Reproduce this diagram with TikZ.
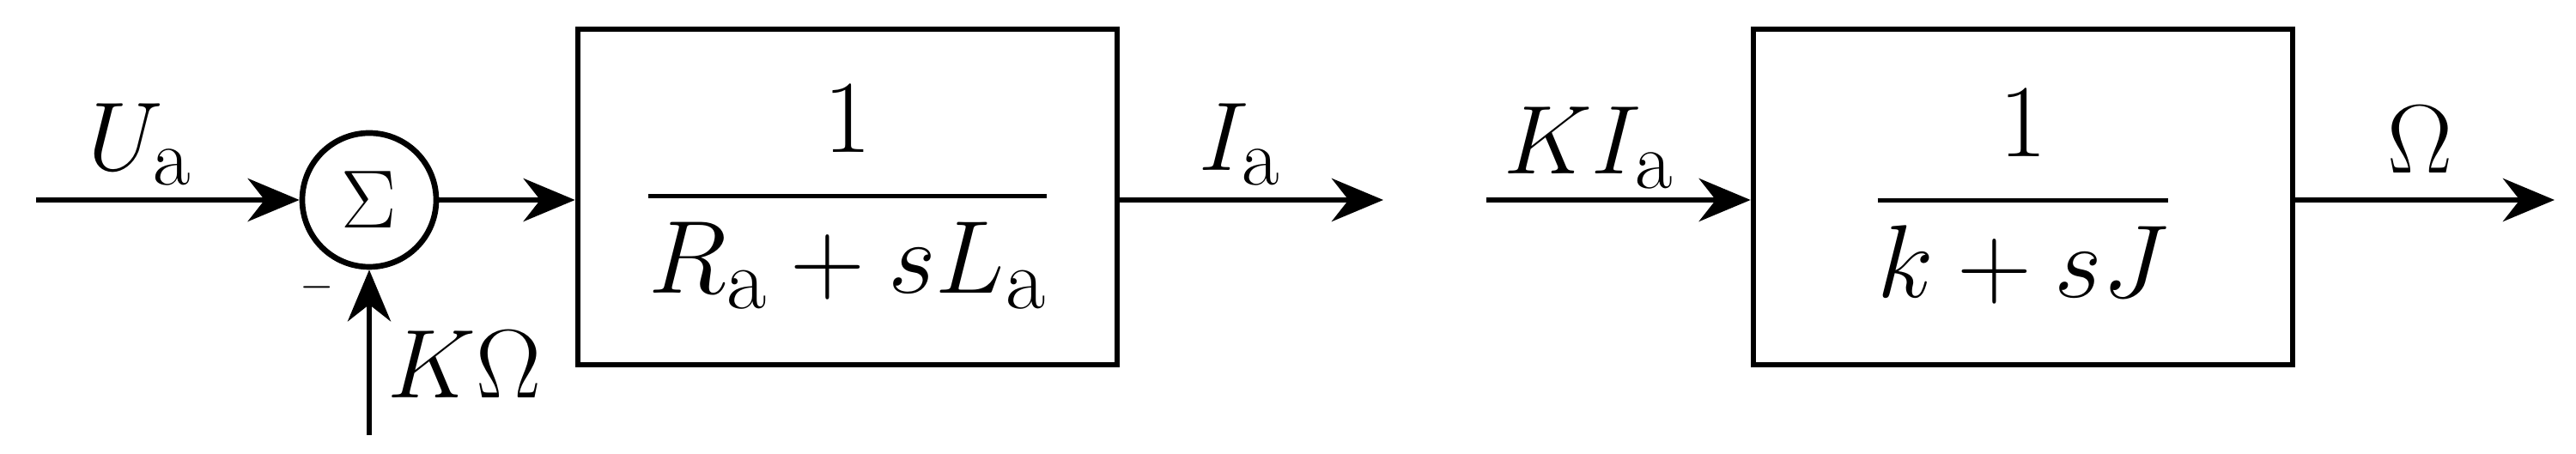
\documentclass[tikz,border=0pt]{standalone}
\usepackage{amsmath}
\usepackage{graphicx}
\usetikzlibrary{arrows.meta}
\begin{document}
\begin{tikzpicture}[x=1cm,y=1cm,
  ln/.style={line width=1.9pt},
  ar/.style={ln,-{Stealth[length=0.6cm,width=0.5cm]}},
  blk/.style={draw,line width=1.9pt,minimum width=6.28cm,minimum height=3.91cm,inner sep=0pt},
  lbl/.style={font=\Huge}]
\useasboundingbox (0,0) rectangle (30,5.29);
\coordinate (in1) at (0.42,2.96);
\node[draw,ln,circle,minimum size=1.56cm,inner sep=0pt,font=\Huge] (sum) at (4.30,2.96) {\scalebox{1.1}{$\Sigma$}};
\node[blk,font=\Huge] (b1) at (9.87,2.995) {\scalebox{1.38}{$\dfrac{1}{R_\mathrm{a}+sL_\mathrm{a}}$}};
\coordinate (o1) at (16.11,2.96);
\coordinate (fb) at (4.30,0.22);
\coordinate (in2) at (17.31,2.96);
\node[blk,font=\Huge] (b2) at (23.56,2.995) {\scalebox{1.38}{$\dfrac{1}{k+sJ}$}};
\coordinate (o2) at (29.75,2.96);
\draw[ar] (in1) -- (sum.west);
\draw[ar] (sum.east) -- (b1.west|-sum.east);
\draw[ar] (b1.east|-o1) -- (o1);
\draw[ar] (fb) -- (sum.south);
\draw[ar] (in2) -- (b2.west|-in2);
\draw[ar] (b2.east|-o2) -- (o2);
\node[lbl] (lu) at (1.63,3.61) {\scalebox{1.3}{$U_\mathrm{a}$}};
\node[lbl] (li) at (14.44,3.61) {\scalebox{1.3}{$I_\mathrm{a}$}};
\node[lbl] (lk) at (5.41,1.04) {\scalebox{1.3}{$K\Omega$}};
\node[font=\Large] (lm) at (3.69,1.94) {$-$};
\node[lbl] (lki) at (18.5,3.57) {\scalebox{1.3}{$KI_\mathrm{a}$}};
\node[lbl] (lo) at (28.18,3.66) {\scalebox{1.3}{$\Omega$}};
\end{tikzpicture}
\end{document}
